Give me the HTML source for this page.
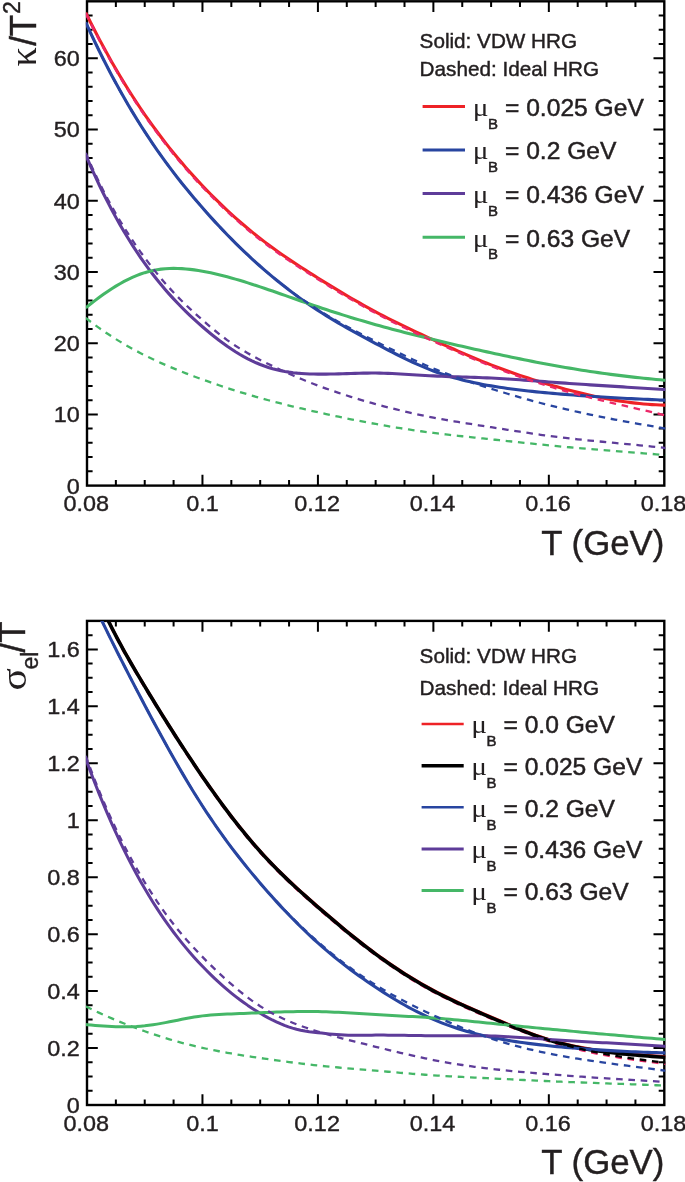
<!DOCTYPE html>
<html lang="en"><head><meta charset="utf-8"><title>HRG plots</title>
<style>
html,body{margin:0;padding:0;background:#fff}
body{width:685px;height:1182px;overflow:hidden}
svg{display:block}
text{font-family:"Liberation Sans",sans-serif;fill:#231f20}
.tk{font-size:22.3px;stroke:#231f20;stroke-width:0.4px}
.ttl{font-size:34.8px;stroke:#231f20;stroke-width:0.4px}
.hd{font-size:20.7px;stroke:#231f20;stroke-width:0.45px}
.lg{font-size:24.6px;stroke:#231f20;stroke-width:0.5px}
.sym{font-family:"Liberation Serif",serif}
</style></head>
<body>
<svg width="685" height="1182" viewBox="0 0 685 1182">
<defs>
<clipPath id="ct"><rect x="85.90" y="1.30" width="579.60" height="484.30"/></clipPath>
<clipPath id="cb"><rect x="85.90" y="620.90" width="579.60" height="484.10"/></clipPath>
</defs>
<rect width="685" height="1182" fill="#fff"/>
<rect x="87.00" y="1.30" width="577.30" height="484.30" fill="none" stroke="#000" stroke-width="2.4"/>
<path d="M115.87,485.60v-5.60M115.87,1.30v5.60M144.73,485.60v-5.60M144.73,1.30v5.60M173.59,485.60v-5.60M173.59,1.30v5.60M202.46,485.60v-10.80M202.46,1.30v10.80M231.33,485.60v-5.60M231.33,1.30v5.60M260.19,485.60v-5.60M260.19,1.30v5.60M289.06,485.60v-5.60M289.06,1.30v5.60M317.92,485.60v-10.80M317.92,1.30v10.80M346.78,485.60v-5.60M346.78,1.30v5.60M375.65,485.60v-5.60M375.65,1.30v5.60M404.51,485.60v-5.60M404.51,1.30v5.60M433.38,485.60v-10.80M433.38,1.30v10.80M462.25,485.60v-5.60M462.25,1.30v5.60M491.11,485.60v-5.60M491.11,1.30v5.60M519.97,485.60v-5.60M519.97,1.30v5.60M548.84,485.60v-10.80M548.84,1.30v10.80M577.70,485.60v-5.60M577.70,1.30v5.60M606.57,485.60v-5.60M606.57,1.30v5.60M635.43,485.60v-5.60M635.43,1.30v5.60M87.00,471.36h5.60M664.30,471.36h-5.60M87.00,457.11h5.60M664.30,457.11h-5.60M87.00,442.87h5.60M664.30,442.87h-5.60M87.00,428.62h5.60M664.30,428.62h-5.60M87.00,414.38h10.80M664.30,414.38h-10.80M87.00,400.14h5.60M664.30,400.14h-5.60M87.00,385.89h5.60M664.30,385.89h-5.60M87.00,371.65h5.60M664.30,371.65h-5.60M87.00,357.40h5.60M664.30,357.40h-5.60M87.00,343.16h10.80M664.30,343.16h-10.80M87.00,328.91h5.60M664.30,328.91h-5.60M87.00,314.67h5.60M664.30,314.67h-5.60M87.00,300.43h5.60M664.30,300.43h-5.60M87.00,286.18h5.60M664.30,286.18h-5.60M87.00,271.94h10.80M664.30,271.94h-10.80M87.00,257.69h5.60M664.30,257.69h-5.60M87.00,243.45h5.60M664.30,243.45h-5.60M87.00,229.21h5.60M664.30,229.21h-5.60M87.00,214.96h5.60M664.30,214.96h-5.60M87.00,200.72h10.80M664.30,200.72h-10.80M87.00,186.47h5.60M664.30,186.47h-5.60M87.00,172.23h5.60M664.30,172.23h-5.60M87.00,157.99h5.60M664.30,157.99h-5.60M87.00,143.74h5.60M664.30,143.74h-5.60M87.00,129.50h10.80M664.30,129.50h-10.80M87.00,115.25h5.60M664.30,115.25h-5.60M87.00,101.01h5.60M664.30,101.01h-5.60M87.00,86.76h5.60M664.30,86.76h-5.60M87.00,72.52h5.60M664.30,72.52h-5.60M87.00,58.28h10.80M664.30,58.28h-10.80M87.00,44.03h5.60M664.30,44.03h-5.60M87.00,29.79h5.60M664.30,29.79h-5.60M87.00,15.54h5.60M664.30,15.54h-5.60" fill="none" stroke="#000" stroke-width="2"/>
<g clip-path="url(#ct)">
<path d="M85.70,12.58 L87.00,15.19 L91.12,23.45 L95.25,31.52 L99.37,39.40 L103.49,47.09 L107.62,54.60 L111.74,61.92 L115.86,69.07 L119.99,76.05 L124.11,82.86 L128.24,89.51 L132.36,96.00 L136.48,102.33 L140.61,108.51 L144.73,114.54 L148.85,120.43 L152.98,126.18 L157.10,131.79 L161.22,137.28 L165.35,142.63 L169.47,147.86 L173.59,152.98 L177.72,157.97 L181.84,162.86 L185.97,167.64 L190.09,172.31 L194.21,176.89 L198.34,181.37 L202.46,185.76 L206.58,190.06 L210.71,194.28 L214.83,198.41 L218.95,202.46 L223.08,206.42 L227.20,210.30 L231.32,214.10 L235.45,217.82 L239.57,221.46 L243.70,225.01 L247.82,228.49 L251.94,231.89 L256.07,235.22 L260.19,238.46 L264.31,241.64 L268.44,244.74 L272.56,247.78 L276.68,250.75 L280.81,253.66 L284.93,256.53 L289.05,259.34 L293.18,262.10 L297.30,264.83 L301.43,267.52 L305.55,270.17 L309.67,272.80 L313.80,275.41 L317.92,277.99 L322.04,280.56 L326.17,283.11 L330.29,285.65 L334.41,288.16 L338.54,290.65 L342.66,293.12 L346.78,295.56 L350.91,297.98 L355.03,300.36 L359.16,302.72 L363.28,305.05 L367.40,307.34 L371.53,309.60 L375.65,311.82 L379.77,314.01 L383.90,316.15 L388.02,318.27 L392.14,320.35 L396.27,322.41 L400.39,324.43 L404.51,326.44 L408.64,328.42 L412.76,330.38 L416.89,332.32 L421.01,334.25 L425.13,336.16 L429.26,338.06 L433.38,339.95 L437.50,341.84 L441.63,343.72 L445.75,345.58 L449.87,347.44 L454.00,349.28 L458.12,351.10 L462.25,352.91 L466.37,354.70 L470.49,356.46 L474.62,358.20 L478.74,359.91 L482.86,361.60 L486.99,363.26 L491.11,364.88 L495.23,366.47 L499.36,368.03 L503.48,369.56 L507.60,371.05 L511.73,372.52 L515.85,373.95 L519.98,375.36 L524.10,376.74 L528.22,378.09 L532.35,379.42 L536.47,380.72 L540.59,381.99 L544.72,383.24 L548.84,384.47 L552.96,385.67 L557.09,386.85 L561.21,388.01 L565.33,389.14 L569.46,390.24 L573.58,391.31 L577.70,392.35 L581.83,393.37 L585.95,394.35 L590.08,395.29 L594.20,396.20 L598.32,397.08 L602.45,397.91 L606.57,398.71 L610.69,399.47 L614.82,400.19 L618.94,400.86 L623.06,401.49 L627.19,402.08 L631.31,402.62 L635.43,403.11 L639.56,403.55 L643.68,403.95 L647.81,404.29 L651.93,404.58 L656.05,404.81 L660.18,405.00 L664.30,405.12 L665.60,405.16" fill="none" stroke="#ee2226" stroke-width="3.1" stroke-linejoin="round"/>
<path d="M85.70,22.35 L87.00,25.16 L91.12,34.08 L95.25,42.78 L99.37,51.26 L103.49,59.53 L107.62,67.58 L111.74,75.44 L115.86,83.10 L119.99,90.57 L124.11,97.85 L128.24,104.94 L132.36,111.87 L136.48,118.62 L140.61,125.21 L144.73,131.63 L148.85,137.91 L152.98,144.03 L157.10,150.01 L161.22,155.85 L165.35,161.56 L169.47,167.14 L173.59,172.60 L177.72,177.94 L181.84,183.17 L185.97,188.30 L190.09,193.32 L194.21,198.25 L198.34,203.09 L202.46,207.84 L206.58,212.51 L210.71,217.11 L214.83,221.62 L218.95,226.06 L223.08,230.42 L227.20,234.70 L231.32,238.91 L235.45,243.04 L239.57,247.09 L243.70,251.07 L247.82,254.97 L251.94,258.80 L256.07,262.56 L260.19,266.24 L264.31,269.85 L268.44,273.39 L272.56,276.85 L276.68,280.25 L280.81,283.57 L284.93,286.82 L289.05,290.01 L293.18,293.12 L297.30,296.17 L301.43,299.15 L305.55,302.06 L309.67,304.90 L313.80,307.68 L317.92,310.40 L322.04,313.05 L326.17,315.64 L330.29,318.17 L334.41,320.65 L338.54,323.09 L342.66,325.47 L346.78,327.82 L350.91,330.14 L355.03,332.42 L359.16,334.68 L363.28,336.91 L367.40,339.13 L371.53,341.33 L375.65,343.51 L379.77,345.70 L383.90,347.87 L388.02,350.02 L392.14,352.15 L396.27,354.25 L400.39,356.31 L404.51,358.34 L408.64,360.32 L412.76,362.25 L416.89,364.12 L421.01,365.93 L425.13,367.68 L429.26,369.35 L433.38,370.93 L437.50,372.44 L441.63,373.87 L445.75,375.21 L449.87,376.49 L454.00,377.69 L458.12,378.82 L462.25,379.89 L466.37,380.90 L470.49,381.86 L474.62,382.76 L478.74,383.61 L482.86,384.41 L486.99,385.17 L491.11,385.89 L495.23,386.58 L499.36,387.23 L503.48,387.84 L507.60,388.43 L511.73,388.99 L515.85,389.52 L519.98,390.03 L524.10,390.51 L528.22,390.97 L532.35,391.41 L536.47,391.84 L540.59,392.24 L544.72,392.63 L548.84,393.01 L552.96,393.38 L557.09,393.74 L561.21,394.09 L565.33,394.42 L569.46,394.75 L573.58,395.07 L577.70,395.37 L581.83,395.67 L585.95,395.96 L590.08,396.24 L594.20,396.52 L598.32,396.78 L602.45,397.04 L606.57,397.29 L610.69,397.53 L614.82,397.76 L618.94,397.99 L623.06,398.21 L627.19,398.43 L631.31,398.64 L635.43,398.84 L639.56,399.04 L643.68,399.24 L647.81,399.42 L651.93,399.61 L656.05,399.79 L660.18,399.96 L664.30,400.14 L665.60,400.19" fill="none" stroke="#2845a0" stroke-width="3.1" stroke-linejoin="round"/>
<path d="M85.70,155.02 L87.00,157.99 L91.12,167.39 L95.25,176.48 L99.37,185.25 L103.49,193.72 L107.62,201.89 L111.74,209.77 L115.86,217.37 L119.99,224.69 L124.11,231.76 L128.24,238.56 L132.36,245.12 L136.48,251.44 L140.61,257.53 L144.73,263.39 L148.85,269.04 L152.98,274.49 L157.10,279.73 L161.22,284.79 L165.35,289.67 L169.47,294.37 L173.59,298.91 L177.72,303.29 L181.84,307.53 L185.97,311.63 L190.09,315.59 L194.21,319.43 L198.34,323.16 L202.46,326.78 L206.58,330.30 L210.71,333.71 L214.83,337.02 L218.95,340.21 L223.08,343.28 L227.20,346.23 L231.32,349.04 L235.45,351.71 L239.57,354.24 L243.70,356.62 L247.82,358.84 L251.94,360.91 L256.07,362.80 L260.19,364.52 L264.31,366.07 L268.44,367.45 L272.56,368.67 L276.68,369.73 L280.81,370.66 L284.93,371.45 L289.05,372.12 L293.18,372.68 L297.30,373.13 L301.43,373.48 L305.55,373.75 L309.67,373.95 L313.80,374.07 L317.92,374.14 L322.04,374.16 L326.17,374.13 L330.29,374.07 L334.41,373.99 L338.54,373.88 L342.66,373.75 L346.78,373.62 L350.91,373.49 L355.03,373.36 L359.16,373.25 L363.28,373.16 L367.40,373.09 L371.53,373.06 L375.65,373.07 L379.77,373.13 L383.90,373.23 L388.02,373.36 L392.14,373.53 L396.27,373.73 L400.39,373.95 L404.51,374.19 L408.64,374.44 L412.76,374.69 L416.89,374.95 L421.01,375.21 L425.13,375.46 L429.26,375.70 L433.38,375.92 L437.50,376.12 L441.63,376.30 L445.75,376.46 L449.87,376.61 L454.00,376.75 L458.12,376.89 L462.25,377.01 L466.37,377.14 L470.49,377.27 L474.62,377.41 L478.74,377.55 L482.86,377.70 L486.99,377.87 L491.11,378.06 L495.23,378.26 L499.36,378.49 L503.48,378.73 L507.60,378.98 L511.73,379.25 L515.85,379.53 L519.98,379.82 L524.10,380.12 L528.22,380.42 L532.35,380.73 L536.47,381.04 L540.59,381.36 L544.72,381.67 L548.84,381.97 L552.96,382.28 L557.09,382.58 L561.21,382.87 L565.33,383.16 L569.46,383.45 L573.58,383.73 L577.70,384.01 L581.83,384.29 L585.95,384.56 L590.08,384.83 L594.20,385.10 L598.32,385.37 L602.45,385.63 L606.57,385.89 L610.69,386.15 L614.82,386.41 L618.94,386.67 L623.06,386.92 L627.19,387.18 L631.31,387.43 L635.43,387.68 L639.56,387.93 L643.68,388.19 L647.81,388.44 L651.93,388.69 L656.05,388.94 L660.18,389.20 L664.30,389.45 L665.60,389.53" fill="none" stroke="#5e3c99" stroke-width="3.1" stroke-linejoin="round"/>
<path d="M85.70,307.87 L87.00,306.84 L91.12,303.57 L95.25,300.39 L99.37,297.32 L103.49,294.35 L107.62,291.50 L111.74,288.77 L115.87,286.18 L119.99,283.74 L124.11,281.45 L128.24,279.33 L132.36,277.37 L136.48,275.60 L140.61,274.03 L144.73,272.65 L148.85,271.48 L152.98,270.51 L157.10,269.74 L161.22,269.14 L165.35,268.73 L169.47,268.47 L173.59,268.38 L177.72,268.43 L181.84,268.62 L185.97,268.93 L190.09,269.36 L194.21,269.89 L198.34,270.52 L202.46,271.23 L206.58,272.01 L210.71,272.85 L214.83,273.76 L218.95,274.73 L223.08,275.75 L227.20,276.83 L231.32,277.96 L235.45,279.13 L239.57,280.34 L243.70,281.59 L247.82,282.87 L251.94,284.19 L256.07,285.53 L260.19,286.89 L264.31,288.28 L268.44,289.68 L272.56,291.09 L276.68,292.52 L280.81,293.95 L284.93,295.40 L289.05,296.84 L293.18,298.29 L297.30,299.73 L301.43,301.17 L305.55,302.60 L309.67,304.03 L313.80,305.44 L317.92,306.84 L322.04,308.22 L326.17,309.58 L330.29,310.92 L334.41,312.25 L338.54,313.57 L342.66,314.86 L346.78,316.14 L350.91,317.40 L355.03,318.65 L359.16,319.88 L363.28,321.09 L367.40,322.29 L371.53,323.47 L375.65,324.64 L379.77,325.79 L383.90,326.93 L388.02,328.05 L392.14,329.16 L396.27,330.26 L400.39,331.34 L404.51,332.41 L408.64,333.47 L412.76,334.52 L416.89,335.55 L421.01,336.58 L425.13,337.59 L429.26,338.60 L433.38,339.60 L437.50,340.59 L441.63,341.57 L445.75,342.54 L449.87,343.50 L454.00,344.46 L458.12,345.41 L462.25,346.35 L466.37,347.29 L470.49,348.22 L474.62,349.14 L478.74,350.06 L482.86,350.97 L486.99,351.87 L491.11,352.77 L495.23,353.67 L499.36,354.56 L503.48,355.44 L507.60,356.31 L511.73,357.18 L515.85,358.04 L519.97,358.89 L524.10,359.73 L528.22,360.56 L532.35,361.37 L536.47,362.18 L540.59,362.98 L544.72,363.76 L548.84,364.53 L552.96,365.28 L557.09,366.02 L561.21,366.74 L565.33,367.46 L569.46,368.15 L573.58,368.84 L577.70,369.51 L581.83,370.16 L585.95,370.80 L590.08,371.43 L594.20,372.04 L598.32,372.63 L602.45,373.22 L606.57,373.78 L610.69,374.34 L614.82,374.88 L618.94,375.40 L623.06,375.91 L627.19,376.40 L631.31,376.88 L635.43,377.35 L639.56,377.80 L643.68,378.24 L647.81,378.66 L651.93,379.06 L656.05,379.46 L660.18,379.83 L664.30,380.19 L665.60,380.31" fill="none" stroke="#45b767" stroke-width="3.1" stroke-linejoin="round"/>
<path d="M85.70,317.95 L87.00,318.94 L91.12,322.11 L95.25,325.17 L99.37,328.14 L103.49,331.01 L107.62,333.80 L111.74,336.49 L115.86,339.11 L119.99,341.64 L124.11,344.09 L128.24,346.47 L132.36,348.77 L136.48,351.00 L140.61,353.17 L144.73,355.27 L148.85,357.30 L152.98,359.28 L157.10,361.21 L161.22,363.08 L165.35,364.90 L169.47,366.67 L173.59,368.40 L177.72,370.08 L181.84,371.73 L185.97,373.34 L190.09,374.92 L194.21,376.47 L198.34,377.99 L202.46,379.48 L206.58,380.95 L210.71,382.40 L214.83,383.83 L218.95,385.24 L223.08,386.62 L227.20,387.98 L231.32,389.31 L235.45,390.63 L239.57,391.92 L243.70,393.18 L247.82,394.42 L251.94,395.64 L256.07,396.83 L260.19,398.00 L264.31,399.14 L268.44,400.26 L272.56,401.36 L276.68,402.43 L280.81,403.48 L284.93,404.52 L289.05,405.54 L293.18,406.54 L297.30,407.52 L301.43,408.49 L305.55,409.45 L309.67,410.39 L313.80,411.32 L317.92,412.24 L322.04,413.16 L326.17,414.06 L330.29,414.95 L334.41,415.84 L338.54,416.71 L342.66,417.57 L346.78,418.42 L350.91,419.26 L355.03,420.08 L359.16,420.89 L363.28,421.69 L367.40,422.47 L371.53,423.24 L375.65,423.99 L379.77,424.73 L383.90,425.45 L388.02,426.16 L392.14,426.85 L396.27,427.53 L400.39,428.19 L404.51,428.83 L408.64,429.46 L412.76,430.07 L416.89,430.67 L421.01,431.25 L425.13,431.82 L429.26,432.36 L433.38,432.90 L437.50,433.41 L441.63,433.92 L445.75,434.40 L449.87,434.88 L454.00,435.35 L458.12,435.81 L462.25,436.26 L466.37,436.70 L470.49,437.14 L474.62,437.57 L478.74,438.01 L482.86,438.44 L486.99,438.87 L491.11,439.31 L495.23,439.74 L499.36,440.19 L503.48,440.63 L507.60,441.07 L511.73,441.51 L515.85,441.96 L519.98,442.40 L524.10,442.83 L528.22,443.27 L532.35,443.70 L536.47,444.12 L540.59,444.54 L544.72,444.96 L548.84,445.36 L552.96,445.76 L557.09,446.14 L561.21,446.53 L565.33,446.90 L569.46,447.27 L573.58,447.63 L577.70,447.98 L581.83,448.33 L585.95,448.68 L590.08,449.02 L594.20,449.35 L598.32,449.69 L602.45,450.02 L606.57,450.35 L610.69,450.67 L614.82,451.00 L618.94,451.32 L623.06,451.65 L627.19,451.97 L631.31,452.30 L635.43,452.62 L639.56,452.95 L643.68,453.28 L647.81,453.61 L651.93,453.95 L656.05,454.29 L660.18,454.63 L664.30,454.98 L665.60,455.08" fill="none" stroke="#45b767" stroke-width="2.3" stroke-linejoin="round" stroke-dasharray="6.6 5.7"/>
<path d="M85.70,152.89 L87.00,155.85 L91.12,165.22 L95.25,174.19 L99.37,182.80 L103.49,191.04 L107.62,198.95 L111.74,206.53 L115.87,213.81 L119.99,220.80 L124.11,227.52 L128.24,233.99 L132.36,240.22 L136.48,246.24 L140.61,252.06 L144.73,257.69 L148.85,263.16 L152.98,268.47 L157.10,273.61 L161.22,278.58 L165.35,283.39 L169.47,288.03 L173.59,292.50 L177.72,296.81 L181.84,300.96 L185.97,304.98 L190.09,308.88 L194.21,312.67 L198.34,316.38 L202.46,320.01 L206.58,323.58 L210.71,327.08 L214.83,330.49 L218.95,333.81 L223.08,337.00 L227.20,340.07 L231.32,342.99 L235.45,345.75 L239.57,348.37 L243.70,350.86 L247.82,353.25 L251.94,355.53 L256.07,357.75 L260.19,359.90 L264.31,362.00 L268.44,364.06 L272.56,366.08 L276.68,368.05 L280.81,369.98 L284.93,371.87 L289.05,373.72 L293.18,375.53 L297.30,377.29 L301.43,379.02 L305.55,380.71 L309.67,382.36 L313.80,383.96 L317.92,385.54 L322.04,387.07 L326.17,388.56 L330.29,390.02 L334.41,391.45 L338.54,392.84 L342.66,394.20 L346.78,395.53 L350.91,396.83 L355.03,398.10 L359.16,399.34 L363.28,400.56 L367.40,401.75 L371.53,402.91 L375.65,404.05 L379.77,405.17 L383.90,406.27 L388.02,407.34 L392.14,408.39 L396.27,409.42 L400.39,410.42 L404.51,411.40 L408.64,412.36 L412.76,413.29 L416.89,414.20 L421.01,415.08 L425.13,415.94 L429.26,416.78 L433.38,417.58 L437.50,418.37 L441.63,419.13 L445.75,419.87 L449.87,420.59 L454.00,421.29 L458.12,421.98 L462.25,422.65 L466.37,423.32 L470.49,423.97 L474.62,424.62 L478.74,425.27 L482.86,425.91 L486.99,426.55 L491.11,427.20 L495.23,427.85 L499.36,428.50 L503.48,429.15 L507.60,429.80 L511.73,430.44 L515.85,431.09 L519.97,431.73 L524.10,432.36 L528.22,432.98 L532.35,433.59 L536.47,434.18 L540.59,434.77 L544.72,435.34 L548.84,435.89 L552.96,436.42 L557.09,436.94 L561.21,437.44 L565.33,437.92 L569.46,438.39 L573.58,438.84 L577.70,439.29 L581.83,439.72 L585.95,440.14 L590.08,440.56 L594.20,440.97 L598.32,441.37 L602.45,441.76 L606.57,442.16 L610.69,442.54 L614.82,442.93 L618.94,443.32 L623.06,443.71 L627.19,444.09 L631.31,444.49 L635.43,444.88 L639.56,445.28 L643.68,445.69 L647.81,446.10 L651.93,446.52 L656.05,446.96 L660.18,447.40 L664.30,447.85 L665.60,448.00" fill="none" stroke="#5e3c99" stroke-width="2.3" stroke-linejoin="round" stroke-dasharray="6.6 5.7"/>
<path d="M85.70,22.34 L87.00,25.16 L91.12,34.09 L95.25,42.79 L99.37,51.27 L103.49,59.54 L107.62,67.60 L111.74,75.46 L115.86,83.11 L119.99,90.58 L124.11,97.86 L128.24,104.95 L132.36,111.87 L136.48,118.62 L140.61,125.21 L144.73,131.63 L148.85,137.90 L152.98,144.03 L157.10,150.00 L161.22,155.84 L165.35,161.55 L169.47,167.13 L173.59,172.59 L177.72,177.93 L181.84,183.16 L185.97,188.28 L190.09,193.31 L194.21,198.24 L198.34,203.08 L202.46,207.84 L206.58,212.52 L210.71,217.12 L214.83,221.64 L218.95,226.09 L223.08,230.45 L227.20,234.74 L231.32,238.95 L235.45,243.08 L239.57,247.14 L243.70,251.11 L247.82,255.01 L251.94,258.83 L256.07,262.58 L260.19,266.24 L264.31,269.83 L268.44,273.34 L272.56,276.77 L276.68,280.13 L280.81,283.41 L284.93,286.62 L289.05,289.76 L293.18,292.82 L297.30,295.81 L301.43,298.73 L305.55,301.57 L309.67,304.35 L313.80,307.05 L317.92,309.69 L322.04,312.25 L326.17,314.75 L330.29,317.20 L334.41,319.58 L338.54,321.92 L342.66,324.21 L346.78,326.46 L350.91,328.66 L355.03,330.84 L359.16,332.99 L363.28,335.11 L367.40,337.21 L371.53,339.30 L375.65,341.38 L379.77,343.45 L383.90,345.51 L388.02,347.55 L392.14,349.59 L396.27,351.60 L400.39,353.59 L404.51,355.56 L408.64,357.51 L412.76,359.42 L416.89,361.30 L421.01,363.15 L425.13,364.95 L429.26,366.72 L433.38,368.44 L437.50,370.12 L441.63,371.75 L445.75,373.34 L449.87,374.89 L454.00,376.40 L458.12,377.88 L462.25,379.33 L466.37,380.74 L470.49,382.13 L474.62,383.49 L478.74,384.83 L482.86,386.15 L486.99,387.45 L491.11,388.74 L495.23,390.01 L499.36,391.27 L503.48,392.52 L507.60,393.75 L511.73,394.96 L515.85,396.16 L519.98,397.35 L524.10,398.51 L528.22,399.66 L532.35,400.79 L536.47,401.90 L540.59,402.99 L544.72,404.07 L548.84,405.12 L552.96,406.15 L557.09,407.16 L561.21,408.16 L565.33,409.13 L569.46,410.09 L573.58,411.02 L577.70,411.94 L581.83,412.84 L585.95,413.73 L590.08,414.60 L594.20,415.46 L598.32,416.30 L602.45,417.13 L606.57,417.94 L610.69,418.74 L614.82,419.53 L618.94,420.31 L623.06,421.08 L627.19,421.83 L631.31,422.58 L635.43,423.32 L639.56,424.05 L643.68,424.77 L647.81,425.48 L651.93,426.18 L656.05,426.88 L660.18,427.58 L664.30,428.27 L665.60,428.48" fill="none" stroke="#2845a0" stroke-width="2.3" stroke-linejoin="round" stroke-dasharray="6.6 5.7"/>
<path d="M85.70,13.29 L87.00,15.90 L91.12,24.19 L95.25,32.29 L99.37,40.19 L103.49,47.91 L107.62,55.44 L111.74,62.79 L115.86,69.97 L119.99,76.98 L124.11,83.81 L128.24,90.48 L132.36,96.99 L136.48,103.35 L140.61,109.55 L144.73,115.61 L148.85,121.52 L152.98,127.29 L157.10,132.92 L161.22,138.43 L165.35,143.80 L169.47,149.05 L173.59,154.18 L177.72,159.19 L181.84,164.09 L185.97,168.88 L190.09,173.57 L194.21,178.16 L198.34,182.65 L202.46,187.04 L206.58,191.35 L210.71,195.57 L214.83,199.71 L218.95,203.75 L223.08,207.72 L227.20,211.60 L231.32,215.40 L235.45,219.11 L239.57,222.75 L243.70,226.30 L247.82,229.78 L251.94,233.18 L256.07,236.50 L260.19,239.75 L264.31,242.92 L268.44,246.02 L272.56,249.06 L276.68,252.03 L280.81,254.94 L284.93,257.80 L289.05,260.62 L293.18,263.38 L297.30,266.11 L301.43,268.80 L305.55,271.46 L309.67,274.08 L313.80,276.69 L317.92,279.27 L322.04,281.84 L326.17,284.39 L330.29,286.93 L334.41,289.44 L338.54,291.93 L342.66,294.40 L346.78,296.84 L350.91,299.25 L355.03,301.64 L359.16,304.00 L363.28,306.33 L367.40,308.62 L371.53,310.88 L375.65,313.10 L379.77,315.29 L383.90,317.44 L388.02,319.56 L392.14,321.65 L396.27,323.70 L400.39,325.73 L404.51,327.74 L408.64,329.72 L412.76,331.68 L416.89,333.62 L421.01,335.55 L425.13,337.46 L429.26,339.35 L433.38,341.24 L437.50,343.11 L441.63,344.98 L445.75,346.83 L449.87,348.67 L454.00,350.50 L458.12,352.31 L462.25,354.10 L466.37,355.88 L470.49,357.64 L474.62,359.37 L478.74,361.09 L482.86,362.78 L486.99,364.45 L491.11,366.09 L495.23,367.71 L499.36,369.30 L503.48,370.86 L507.60,372.40 L511.73,373.91 L515.85,375.39 L519.98,376.84 L524.10,378.27 L528.22,379.67 L532.35,381.04 L536.47,382.38 L540.59,383.70 L544.72,384.99 L548.84,386.25 L552.96,387.48 L557.09,388.69 L561.21,389.87 L565.33,391.02 L569.46,392.15 L573.58,393.27 L577.70,394.36 L581.83,395.43 L585.95,396.49 L590.08,397.53 L594.20,398.56 L598.32,399.57 L602.45,400.57 L606.57,401.56 L610.69,402.54 L614.82,403.51 L618.94,404.48 L623.06,405.44 L627.19,406.40 L631.31,407.36 L635.43,408.32 L639.56,409.27 L643.68,410.23 L647.81,411.19 L651.93,412.15 L656.05,413.13 L660.18,414.10 L664.30,415.09 L665.60,415.40" fill="none" stroke="#ec2868" stroke-width="2.3" stroke-linejoin="round" stroke-dasharray="6.6 5.7"/>
</g>
<text transform="translate(79.8,493.50) scale(1.05,1)" text-anchor="end" class="tk">0</text>
<text transform="translate(79.8,422.28) scale(1.05,1)" text-anchor="end" class="tk">10</text>
<text transform="translate(79.8,351.06) scale(1.05,1)" text-anchor="end" class="tk">20</text>
<text transform="translate(79.8,279.84) scale(1.05,1)" text-anchor="end" class="tk">30</text>
<text transform="translate(79.8,208.62) scale(1.05,1)" text-anchor="end" class="tk">40</text>
<text transform="translate(79.8,137.40) scale(1.05,1)" text-anchor="end" class="tk">50</text>
<text transform="translate(79.8,66.18) scale(1.05,1)" text-anchor="end" class="tk">60</text>
<text transform="translate(86.20,511.10) scale(1.05,1)" text-anchor="middle" class="tk">0.08</text>
<text transform="translate(202.46,511.10) scale(1.05,1)" text-anchor="middle" class="tk">0.1</text>
<text transform="translate(317.12,511.10) scale(1.05,1)" text-anchor="middle" class="tk">0.12</text>
<text transform="translate(432.58,511.10) scale(1.05,1)" text-anchor="middle" class="tk">0.14</text>
<text transform="translate(548.04,511.10) scale(1.05,1)" text-anchor="middle" class="tk">0.16</text>
<text transform="translate(663.50,511.10) scale(1.05,1)" text-anchor="middle" class="tk">0.18</text>
<rect x="87.00" y="620.90" width="577.30" height="484.10" fill="none" stroke="#000" stroke-width="2.4"/>
<path d="M115.87,1105.00v-5.60M115.87,620.90v5.60M144.73,1105.00v-5.60M144.73,620.90v5.60M173.59,1105.00v-5.60M173.59,620.90v5.60M202.46,1105.00v-10.80M202.46,620.90v10.80M231.33,1105.00v-5.60M231.33,620.90v5.60M260.19,1105.00v-5.60M260.19,620.90v5.60M289.06,1105.00v-5.60M289.06,620.90v5.60M317.92,1105.00v-10.80M317.92,620.90v10.80M346.78,1105.00v-5.60M346.78,620.90v5.60M375.65,1105.00v-5.60M375.65,620.90v5.60M404.51,1105.00v-5.60M404.51,620.90v5.60M433.38,1105.00v-10.80M433.38,620.90v10.80M462.25,1105.00v-5.60M462.25,620.90v5.60M491.11,1105.00v-5.60M491.11,620.90v5.60M519.97,1105.00v-5.60M519.97,620.90v5.60M548.84,1105.00v-10.80M548.84,620.90v10.80M577.70,1105.00v-5.60M577.70,620.90v5.60M606.57,1105.00v-5.60M606.57,620.90v5.60M635.43,1105.00v-5.60M635.43,620.90v5.60M87.00,1090.76h5.60M664.30,1090.76h-5.60M87.00,1076.52h5.60M664.30,1076.52h-5.60M87.00,1062.29h5.60M664.30,1062.29h-5.60M87.00,1048.05h10.80M664.30,1048.05h-10.80M87.00,1033.81h5.60M664.30,1033.81h-5.60M87.00,1019.57h5.60M664.30,1019.57h-5.60M87.00,1005.33h5.60M664.30,1005.33h-5.60M87.00,991.09h10.80M664.30,991.09h-10.80M87.00,976.86h5.60M664.30,976.86h-5.60M87.00,962.62h5.60M664.30,962.62h-5.60M87.00,948.38h5.60M664.30,948.38h-5.60M87.00,934.14h10.80M664.30,934.14h-10.80M87.00,919.90h5.60M664.30,919.90h-5.60M87.00,905.66h5.60M664.30,905.66h-5.60M87.00,891.43h5.60M664.30,891.43h-5.60M87.00,877.19h10.80M664.30,877.19h-10.80M87.00,862.95h5.60M664.30,862.95h-5.60M87.00,848.71h5.60M664.30,848.71h-5.60M87.00,834.47h5.60M664.30,834.47h-5.60M87.00,820.24h10.80M664.30,820.24h-10.80M87.00,806.00h5.60M664.30,806.00h-5.60M87.00,791.76h5.60M664.30,791.76h-5.60M87.00,777.52h5.60M664.30,777.52h-5.60M87.00,763.28h10.80M664.30,763.28h-10.80M87.00,749.04h5.60M664.30,749.04h-5.60M87.00,734.81h5.60M664.30,734.81h-5.60M87.00,720.57h5.60M664.30,720.57h-5.60M87.00,706.33h10.80M664.30,706.33h-10.80M87.00,692.09h5.60M664.30,692.09h-5.60M87.00,677.85h5.60M664.30,677.85h-5.60M87.00,663.61h5.60M664.30,663.61h-5.60M87.00,649.38h10.80M664.30,649.38h-10.80M87.00,635.14h5.60M664.30,635.14h-5.60" fill="none" stroke="#000" stroke-width="2"/>
<g clip-path="url(#cb)">
<path d="M85.70,568.14 L87.00,571.35 L91.27,581.90 L95.54,591.98 L99.82,601.63 L104.09,610.88 L108.36,619.76 L112.40,627.85 L116.44,635.68 L120.48,643.26 L124.52,650.63 L128.57,657.81 L132.61,664.84 L136.65,671.73 L140.69,678.53 L144.73,685.26 L148.85,692.07 L152.98,698.83 L157.10,705.55 L161.22,712.21 L165.35,718.82 L169.47,725.37 L173.59,731.87 L177.72,738.30 L181.84,744.68 L185.97,750.98 L190.09,757.23 L194.21,763.40 L198.34,769.50 L202.46,775.53 L206.58,781.48 L210.71,787.35 L214.83,793.15 L218.95,798.85 L223.08,804.47 L227.20,809.99 L231.32,815.42 L235.45,820.75 L239.57,825.97 L243.70,831.09 L247.82,836.10 L251.94,840.99 L256.07,845.77 L260.19,850.42 L264.31,854.95 L268.44,859.37 L272.56,863.67 L276.68,867.88 L280.81,871.99 L284.93,876.01 L289.05,879.95 L293.18,883.82 L297.30,887.63 L301.43,891.38 L305.55,895.08 L309.67,898.73 L313.80,902.35 L317.92,905.95 L322.04,909.52 L326.17,913.07 L330.29,916.60 L334.41,920.10 L338.54,923.56 L342.66,927.00 L346.78,930.40 L350.91,933.75 L355.03,937.07 L359.16,940.34 L363.28,943.57 L367.40,946.74 L371.53,949.87 L375.65,952.94 L379.77,955.95 L383.90,958.90 L388.02,961.79 L392.14,964.63 L396.27,967.40 L400.39,970.12 L404.51,972.77 L408.64,975.37 L412.76,977.91 L416.89,980.38 L421.01,982.79 L425.13,985.15 L429.26,987.44 L433.38,989.67 L437.50,991.84 L441.63,993.95 L445.75,996.01 L449.87,998.02 L454.00,999.99 L458.12,1001.91 L462.25,1003.80 L466.37,1005.66 L470.49,1007.50 L474.62,1009.31 L478.74,1011.11 L482.86,1012.89 L486.99,1014.67 L491.11,1016.44 L495.23,1018.21 L499.36,1019.98 L503.48,1021.73 L507.60,1023.48 L511.73,1025.20 L515.85,1026.89 L519.97,1028.56 L524.10,1030.19 L528.22,1031.78 L532.35,1033.33 L536.47,1034.82 L540.59,1036.25 L544.72,1037.63 L548.84,1038.93 L552.96,1040.17 L557.09,1041.34 L561.21,1042.44 L565.33,1043.47 L569.46,1044.44 L573.58,1045.36 L577.70,1046.22 L581.83,1047.02 L585.95,1047.78 L590.08,1048.49 L594.20,1049.15 L598.32,1049.77 L602.45,1050.35 L606.57,1050.89 L610.69,1051.40 L614.82,1051.88 L618.94,1052.33 L623.06,1052.76 L627.19,1053.16 L631.31,1053.54 L635.43,1053.90 L639.56,1054.24 L643.68,1054.58 L647.81,1054.90 L651.93,1055.22 L656.05,1055.54 L660.18,1055.85 L664.30,1056.16 L665.60,1056.26" fill="none" stroke="#ee2226" stroke-width="2.0" stroke-linejoin="round"/>
<path d="M85.70,570.42 L87.00,573.63 L91.27,584.18 L95.54,594.26 L99.82,603.91 L104.09,613.16 L108.36,622.04 L112.40,630.13 L116.44,637.96 L120.48,645.54 L124.52,652.91 L128.57,660.09 L132.61,667.11 L136.65,674.01 L140.69,680.81 L144.73,687.53 L148.85,694.35 L152.98,701.11 L157.10,707.83 L161.22,714.49 L165.35,721.10 L169.47,727.65 L173.59,734.15 L177.72,740.58 L181.84,746.96 L185.97,753.26 L190.09,759.50 L194.21,765.68 L198.34,771.78 L202.46,777.81 L206.58,783.76 L210.71,789.63 L214.83,795.42 L218.95,801.13 L223.08,806.75 L227.20,812.27 L231.32,817.70 L235.45,823.03 L239.57,828.25 L243.70,833.37 L247.82,838.37 L251.94,843.27 L256.07,848.04 L260.19,852.70 L264.31,857.23 L268.44,861.65 L272.56,865.95 L276.68,870.16 L280.81,874.26 L284.93,878.29 L289.05,882.23 L293.18,886.10 L297.30,889.91 L301.43,893.65 L305.55,897.35 L309.67,901.01 L313.80,904.63 L317.92,908.23 L322.04,911.80 L326.17,915.35 L330.29,918.88 L334.41,922.38 L338.54,925.84 L342.66,929.28 L346.78,932.68 L350.91,936.04 L355.03,939.35 L359.16,942.62 L363.28,945.85 L367.40,949.02 L371.53,952.15 L375.65,955.21 L379.77,958.22 L383.90,961.17 L388.02,964.06 L392.14,966.90 L396.27,969.67 L400.39,972.38 L404.51,975.04 L408.64,977.64 L412.76,980.17 L416.89,982.65 L421.01,985.06 L425.13,987.42 L429.26,989.71 L433.38,991.95 L437.50,994.12 L441.63,996.24 L445.75,998.31 L449.87,1000.32 L454.00,1002.30 L458.12,1004.23 L462.25,1006.12 L466.37,1007.99 L470.49,1009.82 L474.62,1011.63 L478.74,1013.42 L482.86,1015.20 L486.99,1016.96 L491.11,1018.72 L495.23,1020.47 L499.36,1022.21 L503.48,1023.94 L507.60,1025.66 L511.73,1027.35 L515.85,1029.03 L519.97,1030.68 L524.10,1032.30 L528.22,1033.89 L532.35,1035.44 L536.47,1036.95 L540.59,1038.42 L544.72,1039.84 L548.84,1041.21 L552.96,1042.53 L557.09,1043.79 L561.21,1045.00 L565.33,1046.17 L569.46,1047.28 L573.58,1048.35 L577.70,1049.37 L581.83,1050.36 L585.95,1051.30 L590.08,1052.20 L594.20,1053.06 L598.32,1053.89 L602.45,1054.69 L606.57,1055.45 L610.69,1056.18 L614.82,1056.89 L618.94,1057.56 L623.06,1058.21 L627.19,1058.84 L631.31,1059.45 L635.43,1060.03 L639.56,1060.60 L643.68,1061.15 L647.81,1061.68 L651.93,1062.21 L656.05,1062.72 L660.18,1063.22 L664.30,1063.71 L665.60,1063.86" fill="none" stroke="#ec2868" stroke-width="2.3" stroke-linejoin="round" stroke-dasharray="6.6 5.7"/>
<path d="M85.70,569.28 L87.00,572.49 L91.27,583.04 L95.54,593.12 L99.82,602.77 L104.09,612.02 L108.36,620.90 L112.40,628.99 L116.44,636.82 L120.48,644.40 L124.52,651.77 L128.57,658.95 L132.61,665.98 L136.65,672.87 L140.69,679.67 L144.73,686.40 L148.85,693.21 L152.98,699.97 L157.10,706.69 L161.22,713.35 L165.35,719.96 L169.47,726.51 L173.59,733.01 L177.72,739.44 L181.84,745.82 L185.97,752.12 L190.09,758.36 L194.21,764.54 L198.34,770.64 L202.46,776.67 L206.58,782.62 L210.71,788.49 L214.83,794.28 L218.95,799.99 L223.08,805.61 L227.20,811.13 L231.32,816.56 L235.45,821.89 L239.57,827.11 L243.70,832.23 L247.82,837.24 L251.94,842.13 L256.07,846.90 L260.19,851.56 L264.31,856.09 L268.44,860.51 L272.56,864.81 L276.68,869.02 L280.81,873.13 L284.93,877.15 L289.05,881.09 L293.18,884.96 L297.30,888.77 L301.43,892.52 L305.55,896.21 L309.67,899.87 L313.80,903.49 L317.92,907.09 L322.04,910.66 L326.17,914.21 L330.29,917.74 L334.41,921.24 L338.54,924.70 L342.66,928.14 L346.78,931.53 L350.91,934.89 L355.03,938.21 L359.16,941.48 L363.28,944.71 L367.40,947.88 L371.53,951.01 L375.65,954.07 L379.77,957.08 L383.90,960.04 L388.02,962.93 L392.14,965.76 L396.27,968.54 L400.39,971.26 L404.51,973.91 L408.64,976.51 L412.76,979.04 L416.89,981.52 L421.01,983.93 L425.13,986.29 L429.26,988.58 L433.38,990.81 L437.50,992.98 L441.63,995.09 L445.75,997.15 L449.87,999.16 L454.00,1001.12 L458.12,1003.05 L462.25,1004.94 L466.37,1006.80 L470.49,1008.64 L474.62,1010.45 L478.74,1012.25 L482.86,1014.03 L486.99,1015.81 L491.11,1017.58 L495.23,1019.35 L499.36,1021.12 L503.48,1022.87 L507.60,1024.61 L511.73,1026.34 L515.85,1028.03 L519.97,1029.70 L524.10,1031.33 L528.22,1032.92 L532.35,1034.47 L536.47,1035.96 L540.59,1037.39 L544.72,1038.77 L548.84,1040.07 L552.96,1041.31 L557.09,1042.48 L561.21,1043.57 L565.33,1044.61 L569.46,1045.58 L573.58,1046.50 L577.70,1047.36 L581.83,1048.16 L585.95,1048.92 L590.08,1049.63 L594.20,1050.29 L598.32,1050.91 L602.45,1051.49 L606.57,1052.03 L610.69,1052.54 L614.82,1053.02 L618.94,1053.47 L623.06,1053.89 L627.19,1054.29 L631.31,1054.67 L635.43,1055.04 L639.56,1055.38 L643.68,1055.72 L647.81,1056.04 L651.93,1056.36 L656.05,1056.68 L660.18,1056.99 L664.30,1057.30 L665.60,1057.40" fill="none" stroke="#000000" stroke-width="3.6" stroke-linejoin="round"/>
<path d="M85.70,586.80 L87.00,589.58 L90.72,597.52 L94.45,605.39 L98.17,613.18 L101.89,620.90 L105.79,628.89 L109.68,636.81 L113.58,644.66 L117.47,652.44 L121.37,660.15 L125.26,667.80 L129.15,675.38 L133.05,682.91 L136.94,690.39 L140.84,697.81 L144.73,705.19 L148.85,712.95 L152.98,720.65 L157.10,728.29 L161.22,735.86 L165.35,743.34 L169.47,750.74 L173.59,758.05 L177.72,765.26 L181.84,772.36 L185.97,779.34 L190.09,786.21 L194.21,792.94 L198.34,799.54 L202.46,806.00 L206.58,812.31 L210.71,818.47 L214.83,824.50 L218.95,830.39 L223.08,836.15 L227.20,841.79 L231.32,847.32 L235.45,852.73 L239.57,858.04 L243.70,863.24 L247.82,868.35 L251.94,873.37 L256.07,878.31 L260.19,883.17 L264.31,887.95 L268.44,892.66 L272.56,897.29 L276.68,901.85 L280.81,906.33 L284.93,910.73 L289.05,915.05 L293.18,919.29 L297.30,923.45 L301.43,927.52 L305.55,931.51 L309.67,935.42 L313.80,939.24 L317.92,942.97 L322.04,946.61 L326.17,950.17 L330.29,953.65 L334.41,957.05 L338.54,960.37 L342.66,963.61 L346.78,966.79 L350.91,969.90 L355.03,972.94 L359.16,975.91 L363.28,978.83 L367.40,981.69 L371.53,984.50 L375.65,987.25 L379.77,989.95 L383.90,992.61 L388.02,995.20 L392.14,997.74 L396.27,1000.23 L400.39,1002.64 L404.51,1005.00 L408.64,1007.28 L412.76,1009.50 L416.89,1011.64 L421.01,1013.71 L425.13,1015.70 L429.26,1017.60 L433.38,1019.43 L437.50,1021.17 L441.63,1022.82 L445.75,1024.39 L449.87,1025.89 L454.00,1027.31 L458.12,1028.66 L462.25,1029.94 L466.37,1031.16 L470.49,1032.31 L474.62,1033.40 L478.74,1034.43 L482.86,1035.42 L486.99,1036.34 L491.11,1037.23 L495.23,1038.06 L499.36,1038.85 L503.48,1039.61 L507.60,1040.32 L511.73,1041.00 L515.85,1041.64 L519.97,1042.25 L524.10,1042.82 L528.22,1043.37 L532.35,1043.90 L536.47,1044.40 L540.59,1044.87 L544.72,1045.33 L548.84,1045.77 L552.96,1046.19 L557.09,1046.60 L561.21,1046.99 L565.33,1047.37 L569.46,1047.73 L573.58,1048.08 L577.70,1048.42 L581.83,1048.74 L585.95,1049.05 L590.08,1049.35 L594.20,1049.63 L598.32,1049.90 L602.45,1050.16 L606.57,1050.41 L610.69,1050.65 L614.82,1050.88 L618.94,1051.09 L623.06,1051.30 L627.19,1051.50 L631.31,1051.68 L635.43,1051.86 L639.56,1052.03 L643.68,1052.19 L647.81,1052.35 L651.93,1052.49 L656.05,1052.63 L660.18,1052.76 L664.30,1052.89 L665.60,1052.93" fill="none" stroke="#2845a0" stroke-width="3.1" stroke-linejoin="round"/>
<path d="M85.70,758.65 L87.00,762.14 L91.12,773.23 L95.25,783.97 L99.37,794.37 L103.49,804.44 L107.62,814.19 L111.74,823.62 L115.86,832.74 L119.99,841.56 L124.11,850.09 L128.24,858.33 L132.36,866.29 L136.48,873.98 L140.61,881.41 L144.73,888.58 L148.85,895.50 L152.98,902.18 L157.10,908.63 L161.22,914.85 L165.35,920.86 L169.47,926.65 L173.59,932.24 L177.72,937.64 L181.84,942.84 L185.97,947.87 L190.09,952.72 L194.21,957.41 L198.34,961.94 L202.46,966.32 L206.58,970.55 L210.71,974.65 L214.83,978.60 L218.95,982.42 L223.08,986.10 L227.20,989.64 L231.32,993.05 L235.45,996.33 L239.57,999.48 L243.70,1002.49 L247.82,1005.39 L251.94,1008.15 L256.07,1010.79 L260.19,1013.31 L264.23,1015.65 L268.27,1017.87 L272.31,1019.96 L276.35,1021.91 L280.40,1023.72 L284.44,1025.36 L288.48,1026.84 L292.52,1028.15 L296.56,1029.28 L300.60,1030.22 L304.93,1031.02 L309.26,1031.66 L313.59,1032.19 L317.92,1032.67 L321.67,1033.08 L325.42,1033.49 L329.18,1033.88 L332.93,1034.24 L336.68,1034.55 L340.43,1034.81 L344.35,1035.00 L348.26,1035.13 L352.17,1035.21 L356.09,1035.24 L360.00,1035.24 L363.91,1035.22 L367.82,1035.18 L371.74,1035.15 L375.65,1035.12 L379.77,1035.11 L383.90,1035.11 L388.02,1035.14 L392.14,1035.18 L396.27,1035.22 L400.39,1035.28 L404.51,1035.34 L408.64,1035.41 L412.76,1035.48 L416.89,1035.54 L421.01,1035.60 L425.13,1035.65 L429.26,1035.69 L433.38,1035.72 L437.50,1035.73 L441.63,1035.73 L445.75,1035.72 L449.87,1035.71 L454.00,1035.69 L458.12,1035.68 L462.25,1035.67 L466.37,1035.66 L470.49,1035.67 L474.62,1035.69 L478.74,1035.73 L482.86,1035.78 L486.99,1035.86 L491.11,1035.97 L495.23,1036.11 L499.36,1036.28 L503.48,1036.47 L507.60,1036.68 L511.73,1036.91 L515.85,1037.16 L519.97,1037.42 L524.10,1037.69 L528.22,1037.97 L532.35,1038.26 L536.47,1038.55 L540.59,1038.84 L544.72,1039.13 L548.84,1039.42 L552.96,1039.70 L557.09,1039.97 L561.21,1040.23 L565.33,1040.49 L569.46,1040.74 L573.58,1040.99 L577.70,1041.23 L581.83,1041.47 L585.95,1041.71 L590.08,1041.94 L594.20,1042.18 L598.32,1042.41 L602.45,1042.64 L606.57,1042.86 L610.69,1043.09 L614.82,1043.32 L618.94,1043.55 L623.06,1043.79 L627.19,1044.02 L631.31,1044.26 L635.43,1044.50 L639.56,1044.75 L643.68,1045.00 L647.81,1045.25 L651.93,1045.52 L656.05,1045.78 L660.18,1046.06 L664.30,1046.34 L665.60,1046.43" fill="none" stroke="#5e3c99" stroke-width="3.0" stroke-linejoin="round"/>
<path d="M85.70,1024.58 L87.00,1024.70 L91.12,1025.07 L95.25,1025.42 L99.37,1025.75 L103.49,1026.05 L107.62,1026.31 L111.74,1026.52 L115.87,1026.69 L119.99,1026.80 L124.11,1026.84 L128.24,1026.81 L132.36,1026.70 L136.48,1026.51 L140.61,1026.22 L144.73,1025.84 L148.85,1025.35 L152.98,1024.77 L157.10,1024.11 L161.22,1023.39 L165.35,1022.62 L169.47,1021.82 L173.59,1020.99 L177.72,1020.16 L181.84,1019.34 L185.97,1018.54 L190.09,1017.78 L194.21,1017.07 L198.34,1016.43 L202.46,1015.87 L206.58,1015.40 L210.71,1015.02 L214.83,1014.70 L218.95,1014.45 L223.08,1014.23 L227.20,1014.05 L231.32,1013.88 L235.45,1013.71 L239.57,1013.54 L243.70,1013.38 L247.82,1013.22 L251.94,1013.06 L256.07,1012.90 L260.19,1012.74 L264.31,1012.58 L268.44,1012.42 L272.56,1012.27 L276.68,1012.12 L280.81,1011.98 L284.93,1011.86 L289.05,1011.75 L293.18,1011.66 L297.30,1011.59 L301.43,1011.54 L305.55,1011.51 L309.67,1011.51 L313.80,1011.54 L317.92,1011.60 L322.04,1011.69 L326.17,1011.81 L330.29,1011.96 L334.41,1012.14 L338.54,1012.34 L342.66,1012.55 L346.78,1012.78 L350.91,1013.03 L355.03,1013.28 L359.16,1013.53 L363.28,1013.79 L367.40,1014.05 L371.53,1014.31 L375.65,1014.56 L379.77,1014.80 L383.90,1015.03 L388.02,1015.26 L392.14,1015.48 L396.27,1015.70 L400.39,1015.92 L404.51,1016.15 L408.64,1016.38 L412.76,1016.61 L416.89,1016.85 L421.01,1017.11 L425.13,1017.37 L429.26,1017.65 L433.38,1017.95 L437.50,1018.26 L441.63,1018.59 L445.75,1018.94 L449.87,1019.30 L454.00,1019.67 L458.12,1020.06 L462.25,1020.45 L466.37,1020.85 L470.49,1021.26 L474.62,1021.68 L478.74,1022.09 L482.86,1022.52 L486.99,1022.94 L491.11,1023.36 L495.23,1023.78 L499.36,1024.19 L503.48,1024.61 L507.60,1025.02 L511.73,1025.44 L515.85,1025.85 L519.97,1026.25 L524.10,1026.66 L528.22,1027.06 L532.35,1027.47 L536.47,1027.87 L540.59,1028.26 L544.72,1028.66 L548.84,1029.05 L552.96,1029.45 L557.09,1029.84 L561.21,1030.22 L565.33,1030.61 L569.46,1030.99 L573.58,1031.38 L577.70,1031.76 L581.83,1032.14 L585.95,1032.51 L590.08,1032.89 L594.20,1033.26 L598.32,1033.64 L602.45,1034.01 L606.57,1034.38 L610.69,1034.75 L614.82,1035.11 L618.94,1035.48 L623.06,1035.84 L627.19,1036.21 L631.31,1036.57 L635.43,1036.93 L639.56,1037.29 L643.68,1037.64 L647.81,1038.00 L651.93,1038.36 L656.05,1038.71 L660.18,1039.07 L664.30,1039.42 L665.60,1039.53" fill="none" stroke="#45b767" stroke-width="3.0" stroke-linejoin="round"/>
<path d="M85.70,1006.42 L87.00,1007.04 L91.12,1009.03 L95.25,1010.97 L99.37,1012.88 L103.49,1014.74 L107.62,1016.57 L111.74,1018.36 L115.86,1020.11 L119.99,1021.82 L124.11,1023.48 L128.24,1025.12 L132.36,1026.71 L136.48,1028.26 L140.61,1029.77 L144.73,1031.25 L148.85,1032.68 L152.98,1034.08 L157.10,1035.44 L161.22,1036.76 L165.35,1038.04 L169.47,1039.28 L173.59,1040.48 L177.72,1041.65 L181.84,1042.78 L185.97,1043.87 L190.09,1044.92 L194.21,1045.93 L198.34,1046.91 L202.46,1047.85 L206.58,1048.75 L210.71,1049.61 L214.83,1050.45 L218.95,1051.25 L223.08,1052.02 L227.20,1052.76 L231.32,1053.48 L235.45,1054.18 L239.57,1054.86 L243.70,1055.52 L247.82,1056.16 L251.94,1056.79 L256.07,1057.41 L260.19,1058.01 L264.31,1058.61 L268.44,1059.21 L272.56,1059.79 L276.68,1060.37 L280.81,1060.93 L284.93,1061.49 L289.05,1062.03 L293.18,1062.56 L297.30,1063.08 L301.43,1063.59 L305.55,1064.08 L309.67,1064.56 L313.80,1065.03 L317.92,1065.47 L322.04,1065.91 L326.17,1066.33 L330.29,1066.73 L334.41,1067.12 L338.54,1067.51 L342.66,1067.88 L346.78,1068.24 L350.91,1068.60 L355.03,1068.95 L359.16,1069.30 L363.28,1069.65 L367.40,1069.99 L371.53,1070.34 L375.65,1070.69 L379.77,1071.03 L383.90,1071.38 L388.02,1071.74 L392.14,1072.09 L396.27,1072.43 L400.39,1072.78 L404.51,1073.12 L408.64,1073.46 L412.76,1073.79 L416.89,1074.11 L421.01,1074.42 L425.13,1074.73 L429.26,1075.02 L433.38,1075.30 L437.50,1075.57 L441.63,1075.82 L445.75,1076.07 L449.87,1076.30 L454.00,1076.53 L458.12,1076.75 L462.25,1076.96 L466.37,1077.17 L470.49,1077.38 L474.62,1077.58 L478.74,1077.78 L482.86,1077.98 L486.99,1078.17 L491.11,1078.37 L495.23,1078.58 L499.36,1078.78 L503.48,1078.99 L507.60,1079.20 L511.73,1079.40 L515.85,1079.61 L519.98,1079.82 L524.10,1080.02 L528.22,1080.23 L532.35,1080.43 L536.47,1080.63 L540.59,1080.82 L544.72,1081.01 L548.84,1081.19 L552.96,1081.37 L557.09,1081.55 L561.21,1081.72 L565.33,1081.88 L569.46,1082.04 L573.58,1082.20 L577.70,1082.35 L581.83,1082.51 L585.95,1082.66 L590.08,1082.80 L594.20,1082.95 L598.32,1083.10 L602.45,1083.24 L606.57,1083.39 L610.69,1083.53 L614.82,1083.68 L618.94,1083.82 L623.06,1083.97 L627.19,1084.12 L631.31,1084.28 L635.43,1084.43 L639.56,1084.59 L643.68,1084.75 L647.81,1084.92 L651.93,1085.09 L656.05,1085.27 L660.18,1085.45 L664.30,1085.64 L665.60,1085.69" fill="none" stroke="#45b767" stroke-width="2.3" stroke-linejoin="round" stroke-dasharray="6.6 5.7"/>
<path d="M85.70,755.80 L87.00,759.30 L91.12,770.38 L95.25,781.06 L99.37,791.33 L103.49,801.23 L107.62,810.75 L111.74,819.92 L115.87,828.75 L119.99,837.26 L124.11,845.46 L128.24,853.36 L132.36,860.99 L136.48,868.34 L140.61,875.45 L144.73,882.31 L148.85,888.96 L152.98,895.38 L157.10,901.59 L161.22,907.58 L165.35,913.35 L169.47,918.92 L173.59,924.27 L177.72,929.42 L181.84,934.38 L185.97,939.16 L190.09,943.79 L194.21,948.28 L198.34,952.66 L202.46,956.92 L206.58,961.10 L210.71,965.19 L214.83,969.19 L218.95,973.09 L223.08,976.90 L227.20,980.61 L231.32,984.22 L235.45,987.73 L239.57,991.13 L243.70,994.41 L247.82,997.57 L251.94,1000.59 L256.07,1003.46 L260.19,1006.19 L264.31,1008.75 L268.44,1011.17 L272.56,1013.44 L276.68,1015.58 L280.81,1017.59 L284.93,1019.49 L289.05,1021.28 L293.18,1022.97 L297.30,1024.57 L301.43,1026.09 L305.55,1027.54 L309.67,1028.92 L313.80,1030.25 L317.92,1031.53 L322.04,1032.77 L326.17,1033.98 L330.29,1035.16 L334.41,1036.30 L338.54,1037.42 L342.66,1038.52 L346.78,1039.59 L350.91,1040.65 L355.03,1041.69 L359.16,1042.72 L363.28,1043.74 L367.40,1044.75 L371.53,1045.76 L375.65,1046.77 L379.77,1047.77 L383.90,1048.78 L388.02,1049.79 L392.14,1050.79 L396.27,1051.78 L400.39,1052.76 L404.51,1053.73 L408.64,1054.69 L412.76,1055.63 L416.89,1056.55 L421.01,1057.45 L425.13,1058.33 L429.26,1059.18 L433.38,1060.01 L437.50,1060.80 L441.63,1061.57 L445.75,1062.31 L449.87,1063.02 L454.00,1063.71 L458.12,1064.37 L462.25,1065.00 L466.37,1065.61 L470.49,1066.20 L474.62,1066.77 L478.74,1067.31 L482.86,1067.84 L486.99,1068.35 L491.11,1068.83 L495.23,1069.31 L499.36,1069.76 L503.48,1070.20 L507.60,1070.62 L511.73,1071.03 L515.85,1071.43 L519.97,1071.81 L524.10,1072.18 L528.22,1072.55 L532.35,1072.90 L536.47,1073.25 L540.59,1073.59 L544.72,1073.92 L548.84,1074.25 L552.96,1074.57 L557.09,1074.88 L561.21,1075.20 L565.33,1075.51 L569.46,1075.81 L573.58,1076.11 L577.70,1076.41 L581.83,1076.70 L585.95,1076.99 L590.08,1077.27 L594.20,1077.55 L598.32,1077.83 L602.45,1078.10 L606.57,1078.37 L610.69,1078.64 L614.82,1078.90 L618.94,1079.16 L623.06,1079.42 L627.19,1079.67 L631.31,1079.92 L635.43,1080.17 L639.56,1080.41 L643.68,1080.65 L647.81,1080.89 L651.93,1081.13 L656.05,1081.36 L660.18,1081.59 L664.30,1081.82 L665.60,1081.89" fill="none" stroke="#5e3c99" stroke-width="2.3" stroke-linejoin="round" stroke-dasharray="6.6 5.7"/>
<path d="M85.70,586.80 L87.00,589.58 L90.72,597.52 L94.45,605.39 L98.17,613.18 L101.89,620.90 L105.79,628.89 L109.68,636.81 L113.58,644.66 L117.47,652.44 L121.37,660.15 L125.26,667.80 L129.15,675.39 L133.05,682.92 L136.94,690.39 L140.84,697.82 L144.73,705.19 L148.85,712.95 L152.98,720.65 L157.10,728.28 L161.22,735.84 L165.35,743.32 L169.47,750.72 L173.59,758.02 L177.72,765.23 L181.84,772.33 L185.97,779.31 L190.09,786.18 L194.21,792.92 L198.34,799.53 L202.46,806.00 L206.58,812.32 L210.71,818.50 L214.83,824.54 L218.95,830.45 L223.08,836.23 L227.20,841.89 L231.32,847.42 L235.45,852.84 L239.57,858.15 L243.70,863.35 L247.82,868.45 L251.94,873.45 L256.07,878.35 L260.19,883.17 L264.31,887.90 L268.44,892.54 L272.56,897.11 L276.68,901.58 L280.81,905.98 L284.93,910.29 L289.05,914.52 L293.18,918.66 L297.30,922.72 L301.43,926.71 L305.55,930.61 L309.67,934.43 L313.80,938.17 L317.92,941.83 L322.04,945.41 L326.17,948.91 L330.29,952.34 L334.41,955.68 L338.54,958.95 L342.66,962.14 L346.78,965.26 L350.91,968.30 L355.03,971.26 L359.16,974.15 L363.28,976.97 L367.40,979.71 L371.53,982.38 L375.65,984.97 L379.77,987.50 L383.90,989.95 L388.02,992.34 L392.14,994.67 L396.27,996.94 L400.39,999.15 L404.51,1001.32 L408.64,1003.43 L412.76,1005.50 L416.89,1007.53 L421.01,1009.52 L425.13,1011.48 L429.26,1013.40 L433.38,1015.30 L437.50,1017.17 L441.63,1019.02 L445.75,1020.83 L449.87,1022.62 L454.00,1024.38 L458.12,1026.10 L462.25,1027.79 L466.37,1029.44 L470.49,1031.05 L474.62,1032.62 L478.74,1034.16 L482.86,1035.64 L486.99,1037.08 L491.11,1038.48 L495.23,1039.83 L499.36,1041.12 L503.48,1042.38 L507.60,1043.59 L511.73,1044.75 L515.85,1045.88 L519.97,1046.96 L524.10,1048.00 L528.22,1049.01 L532.35,1049.98 L536.47,1050.92 L540.59,1051.83 L544.72,1052.70 L548.84,1053.54 L552.96,1054.36 L557.09,1055.15 L561.21,1055.91 L565.33,1056.64 L569.46,1057.36 L573.58,1058.05 L577.70,1058.72 L581.83,1059.37 L585.95,1060.01 L590.08,1060.63 L594.20,1061.23 L598.32,1061.82 L602.45,1062.40 L606.57,1062.97 L610.69,1063.53 L614.82,1064.08 L618.94,1064.62 L623.06,1065.16 L627.19,1065.69 L631.31,1066.22 L635.43,1066.75 L639.56,1067.28 L643.68,1067.81 L647.81,1068.35 L651.93,1068.89 L656.05,1069.43 L660.18,1069.98 L664.30,1070.54 L665.60,1070.72" fill="none" stroke="#2845a0" stroke-width="2.3" stroke-linejoin="round" stroke-dasharray="6.6 5.7"/>
<path d="M85.70,569.28 L87.00,572.49 L91.27,583.04 L95.54,593.12 L99.82,602.77 L104.09,612.02 L108.36,620.90 L112.40,628.99 L116.44,636.82 L120.48,644.40 L124.52,651.77 L128.57,658.95 L132.61,665.98 L136.65,672.87 L140.69,679.67 L144.73,686.40 L148.85,693.21 L152.98,699.97 L157.10,706.69 L161.22,713.35 L165.35,719.96 L169.47,726.51 L173.59,733.01 L177.72,739.44 L181.84,745.82 L185.97,752.12 L190.09,758.36 L194.21,764.54 L198.34,770.64 L202.46,776.67 L206.58,782.62 L210.71,788.49 L214.83,794.28 L218.95,799.99 L223.08,805.61 L227.20,811.13 L231.32,816.56 L235.45,821.89 L239.57,827.11 L243.70,832.23 L247.82,837.24 L251.94,842.13 L256.07,846.90 L260.19,851.56 L264.31,856.09 L268.44,860.51 L272.56,864.81 L276.68,869.02 L280.81,873.13 L284.93,877.15 L289.05,881.09 L293.18,884.96 L297.30,888.77 L301.43,892.51 L305.55,896.21 L309.67,899.87 L313.80,903.49 L317.92,907.09 L322.04,910.66 L326.17,914.21 L330.29,917.74 L334.41,921.24 L338.54,924.71 L342.66,928.14 L346.78,931.54 L350.91,934.90 L355.03,938.21 L359.16,941.49 L363.28,944.71 L367.40,947.89 L371.53,951.01 L375.65,954.07 L379.77,957.08 L383.90,960.03 L388.02,962.93 L392.14,965.76 L396.27,968.53 L400.39,971.25 L404.51,973.90 L408.64,976.50 L412.76,979.03 L416.89,981.51 L421.01,983.92 L425.13,986.28 L429.26,988.57 L433.38,990.81 L437.50,992.98 L441.63,995.10 L445.75,997.17 L449.87,999.18 L454.00,1001.16 L458.12,1003.09 L462.25,1004.98 L466.37,1006.85 L470.49,1008.68 L474.62,1010.49 L478.74,1012.28 L482.86,1014.06 L486.99,1015.82 L491.11,1017.58 L495.23,1019.33 L499.36,1021.07 L503.48,1022.80 L507.60,1024.52 L511.73,1026.22 L515.85,1027.89 L519.97,1029.54 L524.10,1031.16 L528.22,1032.75 L532.35,1034.30 L536.47,1035.82 L540.59,1037.28 L544.72,1038.70 L548.84,1040.07 L552.96,1041.39 L557.09,1042.65 L561.21,1043.86 L565.33,1045.03 L569.46,1046.14 L573.58,1047.21 L577.70,1048.24 L581.83,1049.22 L585.95,1050.16 L590.08,1051.06 L594.20,1051.93 L598.32,1052.75 L602.45,1053.55 L606.57,1054.31 L610.69,1055.04 L614.82,1055.75 L618.94,1056.42 L623.06,1057.08 L627.19,1057.70 L631.31,1058.31 L635.43,1058.89 L639.56,1059.46 L643.68,1060.01 L647.81,1060.55 L651.93,1061.07 L656.05,1061.58 L660.18,1062.08 L664.30,1062.57 L665.60,1062.73" fill="none" stroke="#000000" stroke-width="2.3" stroke-linejoin="round" stroke-dasharray="6.6 5.7"/>
</g>
<text transform="translate(79.8,1112.90) scale(1.05,1)" text-anchor="end" class="tk">0</text>
<text transform="translate(79.8,1055.95) scale(1.05,1)" text-anchor="end" class="tk">0.2</text>
<text transform="translate(79.8,998.99) scale(1.05,1)" text-anchor="end" class="tk">0.4</text>
<text transform="translate(79.8,942.04) scale(1.05,1)" text-anchor="end" class="tk">0.6</text>
<text transform="translate(79.8,885.09) scale(1.05,1)" text-anchor="end" class="tk">0.8</text>
<text transform="translate(79.8,828.14) scale(1.05,1)" text-anchor="end" class="tk">1</text>
<text transform="translate(79.8,771.18) scale(1.05,1)" text-anchor="end" class="tk">1.2</text>
<text transform="translate(79.8,714.23) scale(1.05,1)" text-anchor="end" class="tk">1.4</text>
<text transform="translate(79.8,657.28) scale(1.05,1)" text-anchor="end" class="tk">1.6</text>
<text transform="translate(86.20,1130.50) scale(1.05,1)" text-anchor="middle" class="tk">0.08</text>
<text transform="translate(202.46,1130.50) scale(1.05,1)" text-anchor="middle" class="tk">0.1</text>
<text transform="translate(317.12,1130.50) scale(1.05,1)" text-anchor="middle" class="tk">0.12</text>
<text transform="translate(432.58,1130.50) scale(1.05,1)" text-anchor="middle" class="tk">0.14</text>
<text transform="translate(548.04,1130.50) scale(1.05,1)" text-anchor="middle" class="tk">0.16</text>
<text transform="translate(663.50,1130.50) scale(1.05,1)" text-anchor="middle" class="tk">0.18</text>
<text x="664.4" y="554.50" text-anchor="end" class="ttl">T (GeV)</text>
<text x="664.4" y="1173.90" text-anchor="end" class="ttl">T (GeV)</text>
<text transform="translate(35.8,66.4) rotate(-90)" class="sym" style="font-size:38.5px">κ</text>
<text transform="translate(35.8,45.8) rotate(-90) scale(1,1.05)" class="ttl">/T</text>
<text transform="translate(20.0,14.0) rotate(-90)" class="ttl" style="font-size:23px">2</text>
<text transform="translate(26.0,690.4) rotate(-90) scale(1.16,1)" class="sym" style="font-size:35.6px">σ</text>
<text transform="translate(38.0,669.6) rotate(-90)" class="ttl" style="font-size:23.3px">el</text>
<text transform="translate(25.2,652.4) rotate(-90) scale(1,1.05)" class="ttl">/T</text>
<text x="419.6" y="47.5" class="hd">Solid: VDW HRG</text>
<text x="419.6" y="76.0" class="hd">Dashed: Ideal HRG</text>
<line x1="422.6" y1="106.40" x2="465.0" y2="106.40" stroke="#ee2226" stroke-width="3"/>
<text transform="translate(472.7,115.70) scale(1.15,1)" class="lg sym" style="font-size:25.6px;stroke:none">μ</text>
<text x="487.9" y="128.60" class="lg" style="font-size:15px">B</text>
<text x="505.0" y="115.70" class="lg" style="font-size:24.6px">= 0.025 GeV</text>
<line x1="422.6" y1="150.00" x2="465.0" y2="150.00" stroke="#2845a0" stroke-width="3"/>
<text transform="translate(472.7,159.30) scale(1.15,1)" class="lg sym" style="font-size:25.6px;stroke:none">μ</text>
<text x="487.9" y="172.20" class="lg" style="font-size:15px">B</text>
<text x="505.0" y="159.30" class="lg" style="font-size:24.6px">= 0.2 GeV</text>
<line x1="422.6" y1="193.60" x2="465.0" y2="193.60" stroke="#5e3c99" stroke-width="3"/>
<text transform="translate(472.7,202.90) scale(1.15,1)" class="lg sym" style="font-size:25.6px;stroke:none">μ</text>
<text x="487.9" y="215.80" class="lg" style="font-size:15px">B</text>
<text x="505.0" y="202.90" class="lg" style="font-size:24.6px">= 0.436 GeV</text>
<line x1="422.6" y1="237.20" x2="465.0" y2="237.20" stroke="#45b767" stroke-width="3"/>
<text transform="translate(472.7,246.50) scale(1.15,1)" class="lg sym" style="font-size:25.6px;stroke:none">μ</text>
<text x="487.9" y="259.40" class="lg" style="font-size:15px">B</text>
<text x="505.0" y="246.50" class="lg" style="font-size:24.6px">= 0.63 GeV</text>
<text x="419.6" y="663.2" class="hd">Solid: VDW HRG</text>
<text x="419.6" y="694.5" class="hd">Dashed: Ideal HRG</text>
<line x1="421.6" y1="724.00" x2="463.7" y2="724.00" stroke="#ee2226" stroke-width="2.7"/>
<text transform="translate(471.2,733.30) scale(1.15,1)" class="lg sym" style="font-size:25.6px;stroke:none">μ</text>
<text x="486.4" y="746.20" class="lg" style="font-size:15px">B</text>
<text x="503.5" y="733.30" class="lg" style="font-size:24.6px">= 0.0 GeV</text>
<line x1="421.6" y1="765.65" x2="463.7" y2="765.65" stroke="#000000" stroke-width="3.5"/>
<text transform="translate(471.2,774.95) scale(1.15,1)" class="lg sym" style="font-size:25.6px;stroke:none">μ</text>
<text x="486.4" y="787.85" class="lg" style="font-size:15px">B</text>
<text x="503.5" y="774.95" class="lg" style="font-size:24.6px">= 0.025 GeV</text>
<line x1="421.6" y1="807.30" x2="463.7" y2="807.30" stroke="#2845a0" stroke-width="2.5"/>
<text transform="translate(471.2,816.60) scale(1.15,1)" class="lg sym" style="font-size:25.6px;stroke:none">μ</text>
<text x="486.4" y="829.50" class="lg" style="font-size:15px">B</text>
<text x="503.5" y="816.60" class="lg" style="font-size:24.6px">= 0.2 GeV</text>
<line x1="421.6" y1="848.95" x2="463.7" y2="848.95" stroke="#5e3c99" stroke-width="3"/>
<text transform="translate(471.2,858.25) scale(1.15,1)" class="lg sym" style="font-size:25.6px;stroke:none">μ</text>
<text x="486.4" y="871.15" class="lg" style="font-size:15px">B</text>
<text x="503.5" y="858.25" class="lg" style="font-size:24.6px">= 0.436 GeV</text>
<line x1="421.6" y1="890.60" x2="463.7" y2="890.60" stroke="#45b767" stroke-width="3"/>
<text transform="translate(471.2,899.90) scale(1.15,1)" class="lg sym" style="font-size:25.6px;stroke:none">μ</text>
<text x="486.4" y="912.80" class="lg" style="font-size:15px">B</text>
<text x="503.5" y="899.90" class="lg" style="font-size:24.6px">= 0.63 GeV</text>
</svg>
</body></html>
